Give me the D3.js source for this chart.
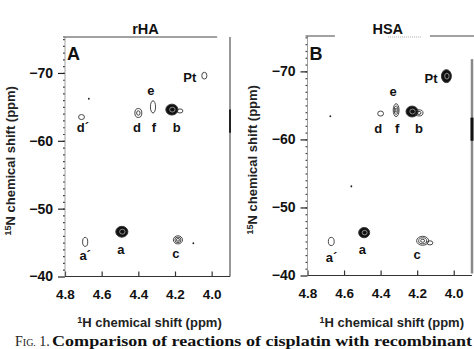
<!DOCTYPE html>
<html>
<head>
<meta charset="utf-8">
<script src="https://cdn.jsdelivr.net/npm/d3@7"></script>
<style>
  html, body { margin: 0; padding: 0; background: #fff; }
  svg { display: block; }
</style>
</head>
<body>
<svg id="chart" width="474" height="349"></svg>
<script>
// ---------------- DATA ----------------
const xTickValues = [4.8, 4.6, 4.4, 4.2, 4.0];
const yTickValues = [-70, -60, -50, -40];
const panelTitles = ["rHA", "HSA"];
const panelLetters = ["A", "B"];
const xTitle = "H chemical shift (ppm)";
const yTitle = "N chemical shift (ppm)";

// rHA (panel A) cross peaks: 1H ppm, 15N ppm, contour levels, linewidths (ppm)
const rhaPeakH      = [4.04, 4.71, 4.40, 4.32, 4.217, 4.173, 4.49, 4.69, 4.184, 4.67, 4.10];
const rhaPeakN      = [-69.6, -63.5, -64.1, -65.0, -64.6, -64.4, -46.6, -45.1, -45.4, -66.2, -44.9];
const rhaPeakLevel  = [1, 1, 2, 1, 6, 1, 6, 1, 3, 0, 0];
const rhaPeakWidthH = [0.014, 0.016, 0.019, 0.014, 0.033, 0.016, 0.033, 0.014, 0.025, 0.005, 0.005];
const rhaPeakWidthN = [0.5, 0.37, 0.66, 0.9, 0.8, 0.3, 0.8, 0.66, 0.6, 0.15, 0.15];
const rhaLabelText  = ["Pt", "e", "d\u00b4", "d", "f", "b", "a\u00b4", "a", "c"];
const rhaLabelH     = [4.119, 4.331, 4.702, 4.408, 4.315, 4.19, 4.69, 4.495, 4.195];
const rhaLabelN     = [-69.3, -67.35, -61.9, -61.9, -61.9, -61.9, -43.1, -44.0, -43.4];

// HSA (panel B) cross peaks
const hsaPeakH      = [4.04, 4.40, 4.315, 4.228, 4.19, 4.49, 4.67, 4.17, 4.13, 4.675, 4.56];
const hsaPeakN      = [-69.3, -63.8, -64.3, -64.1, -63.9, -46.3, -45.0, -45.1, -44.8, -63.4, -53.1];
const hsaPeakLevel  = [6, 1, 3, 6, 2, 6, 1, 3, 1, 0, 0];
const hsaPeakWidthH = [0.027, 0.016, 0.016, 0.033, 0.022, 0.030, 0.016, 0.033, 0.016, 0.005, 0.005];
const hsaPeakWidthN = [0.95, 0.37, 0.95, 0.8, 0.45, 0.75, 0.6, 0.66, 0.3, 0.15, 0.15];
const hsaLabelText  = ["Pt", "e", "d", "f", "b", "a\u00b4", "a", "c"];
const hsaLabelH     = [4.124, 4.331, 4.413, 4.31, 4.19, 4.669, 4.50, 4.20];
const hsaLabelN     = [-68.97, -67.06, -61.6, -61.6, -61.6, -42.6, -43.8, -43.1];

const captionLead = "F";
const captionLeadSmall = "IG.";
const captionLeadNum = " 1.";
const captionText = "Comparison of reactions of cisplatin with recombinant";

// ---------------- DRAW ----------------
const svg = d3.select("#chart");
const SANS = "'Liberation Sans', Arial, Helvetica, sans-serif";
const SERIF = "'Liberation Serif', 'Times New Roman', serif";

function zip(H, N, L, WH, WN) {
  return H.map((h, i) => ({ h, n: N[i], level: L[i], wh: WH[i], wn: WN[i] }));
}
function zipLabels(T, H, N) { return T.map((t, i) => ({ t, h: H[i], n: N[i] })); }

const panels = [
  {
    title: panelTitles[0], letter: panelLetters[0],
    x: d3.scaleLinear().domain([4.8, 3.9]).range([65, 230]),
    y: d3.scaleLinear().domain([-40, -75.3]).range([276.5, 37]),
    peaks: zip(rhaPeakH, rhaPeakN, rhaPeakLevel, rhaPeakWidthH, rhaPeakWidthN),
    labels: zipLabels(rhaLabelText, rhaLabelH, rhaLabelN),
    yTitleX: 11
  },
  {
    title: panelTitles[1], letter: panelLetters[1],
    x: d3.scaleLinear().domain([4.8, 3.9]).range([307.5, 472]),
    y: d3.scaleLinear().domain([-40, -75.2]).range([275.5, 36]),
    peaks: zip(hsaPeakH, hsaPeakN, hsaPeakLevel, hsaPeakWidthH, hsaPeakWidthN),
    labels: zipLabels(hsaLabelText, hsaLabelH, hsaLabelN),
    yTitleX: 253
  }
];

panels.forEach((p, pi) => {
  const g = svg.append("g");
  const [x0, x1] = p.x.range();
  const [yb, yt] = p.y.range();

  // minor y ticks (every 1 ppm)
  const minor = d3.axisLeft(p.y).tickValues(d3.range(-75, -40, 1)).tickSize(2).tickFormat("");
  const gm = g.append("g").attr("transform", `translate(${x0},0)`).call(minor);
  gm.select(".domain").remove();
  gm.selectAll("line").attr("stroke", "#444").attr("stroke-width", 1.2);

  // major y axis
  const yAx = d3.axisLeft(p.y).tickValues(yTickValues).tickSize(7).tickPadding(5)
    .tickFormat(d => "\u2212" + Math.abs(d));
  const gy = g.append("g").attr("transform", `translate(${x0},0)`).call(yAx);
  gy.select(".domain").remove();
  gy.selectAll("line").attr("stroke", "#222").attr("stroke-width", 1.2);
  gy.selectAll("text").attr("font-family", SANS).attr("font-size", 14)
    .attr("font-weight", "bold").attr("fill", "#111");

  // x axis
  const xAx = d3.axisBottom(p.x).tickValues(xTickValues).tickSizeInner(-5).tickSizeOuter(0)
    .tickPadding(13).tickFormat(d3.format(".1f"));
  const gx = g.append("g").attr("transform", `translate(0,${yb})`).call(xAx);
  gx.select(".domain").remove();
  gx.selectAll("line").attr("stroke", "#333").attr("stroke-width", 1.2);
  gx.selectAll("text").attr("font-family", SANS).attr("font-size", 13.5)
    .attr("font-weight", "bold").attr("fill", "#111");

  // frame
  g.append("line").attr("x1", x0).attr("x2", x0).attr("y1", yt).attr("y2", yb)
    .attr("stroke", "#888").attr("stroke-width", 0.8);
  g.append("line").attr("x1", x0).attr("x2", x1).attr("y1", yb).attr("y2", yb)
    .attr("stroke", "#333").attr("stroke-width", 1.1);
  if (pi === 0) {
    g.append("line").attr("x1", x0 - 2).attr("x2", p.x(3.97)).attr("y1", yt).attr("y2", yt)
      .attr("stroke", "#444").attr("stroke-width", 1);
    g.append("line").attr("x1", x1).attr("x2", x1).attr("y1", yt).attr("y2", yb)
      .attr("stroke", "#444").attr("stroke-width", 1.1);
    g.append("line").attr("x1", x1).attr("x2", x1).attr("y1", p.y(-64.6)).attr("y2", p.y(-61.2))
      .attr("stroke", "#222").attr("stroke-width", 2);
  } else {
    g.append("line").attr("x1", x0 - 2).attr("x2", p.x(4.65)).attr("y1", yt).attr("y2", yt)
      .attr("stroke", "#444").attr("stroke-width", 1);
    g.append("line").attr("x1", p.x(4.13)).attr("x2", x1 + 2).attr("y1", yt).attr("y2", yt)
      .attr("stroke", "#444").attr("stroke-width", 1);
    g.append("line").attr("x1", p.x(4.36)).attr("x2", p.x(4.18)).attr("y1", yt + 1).attr("y2", yt + 1)
      .attr("stroke", "#999").attr("stroke-width", 0.8).attr("stroke-dasharray", "1,1");
    g.append("line").attr("x1", x1).attr("x2", x1).attr("y1", p.y(-71.8)).attr("y2", yb - 2)
      .attr("stroke", "#888").attr("stroke-width", 2.5);
    g.append("line").attr("x1", x1).attr("x2", x1).attr("y1", p.y(-63.2)).attr("y2", p.y(-59.8))
      .attr("stroke", "#111").attr("stroke-width", 3);
  }

  // title and panel letter
  g.append("text").attr("x", (x0 + x1) / 2 - 2).attr("y", 34).attr("text-anchor", "middle")
    .attr("font-family", SANS).attr("font-size", 14.5).attr("font-weight", "bold")
    .attr("fill", "#111").text(p.title);
  g.append("text").attr("x", x0 + 2).attr("y", 59.5)
    .attr("font-family", SANS).attr("font-size", 18).attr("font-weight", "bold")
    .attr("fill", "#111").text(p.letter);

  // x axis title
  const xt = g.append("text").attr("x", (x0 + x1) / 2 + 2).attr("y", 327).attr("text-anchor", "middle")
    .attr("font-family", SANS).attr("font-size", 13).attr("font-weight", "bold").attr("fill", "#222");
  xt.append("tspan").attr("font-size", 9).attr("dy", -4).text("1");
  xt.append("tspan").attr("dy", 4).text(xTitle);

  // y axis title
  const yc = (yt + yb) / 2 + 4;
  const ytx = g.append("text")
    .attr("transform", `translate(${p.yTitleX + 4},${yc}) rotate(-90)`)
    .attr("text-anchor", "middle")
    .attr("font-family", SANS).attr("font-size", 13).attr("font-weight", "bold").attr("fill", "#222");
  ytx.append("tspan").attr("font-size", 9).attr("dy", -4).text("15");
  ytx.append("tspan").attr("dy", 4).text(yTitle);

  // peaks (contours)
  const gp = g.append("g");
  p.peaks.forEach(pk => {
    const cx = p.x(pk.h), cy = p.y(pk.n);
    const rx = Math.abs(p.x(pk.h + pk.wh) - cx);
    const ry = Math.abs(p.y(pk.n + pk.wn) - cy);
    if (pk.level === 0) {
      gp.append("ellipse").attr("cx", cx).attr("cy", cy).attr("rx", Math.max(rx, 0.9)).attr("ry", Math.max(ry, 0.9))
        .attr("fill", "#222");
    } else if (pk.level >= 5) {
      gp.append("ellipse").attr("cx", cx).attr("cy", cy).attr("rx", rx).attr("ry", ry)
        .attr("fill", "#111").attr("stroke", "#333").attr("stroke-width", 1);
      gp.append("ellipse").attr("cx", cx + 0.5).attr("cy", cy).attr("rx", rx * 0.45).attr("ry", ry * 0.45)
        .attr("fill", "none").attr("stroke", "#aaa").attr("stroke-width", 0.8);
    } else {
      for (let k = pk.level; k >= 1; k--) {
        gp.append("ellipse").attr("cx", cx).attr("cy", cy)
          .attr("rx", rx * k / pk.level).attr("ry", ry * k / pk.level)
          .attr("fill", "none").attr("stroke", "#333").attr("stroke-width", 0.9);
      }
    }
  });

  // peak labels
  g.append("g").selectAll("text").data(p.labels).join("text")
    .attr("x", d => p.x(d.h)).attr("y", d => p.y(d.n))
    .attr("text-anchor", "middle").attr("dominant-baseline", "central")
    .attr("font-family", SANS).attr("font-size", 13).attr("font-weight", "bold").attr("fill", "#111")
    .text(d => d.t);
});

// caption (at the bottom edge as in the reference)
const cap = svg.append("text").attr("x", 15).attr("y", 345.5)
  .attr("font-family", SERIF).attr("font-size", 14).attr("fill", "#222");
cap.append("tspan").text(captionLead);
cap.append("tspan").attr("font-size", 10).text(captionLeadSmall);
cap.append("tspan").text(captionLeadNum);
svg.append("text").attr("x", 52).attr("y", 345.5)
  .attr("font-family", SERIF).attr("font-size", 15).attr("font-weight", "bold").attr("fill", "#111")
  .attr("textLength", 420).attr("lengthAdjust", "spacingAndGlyphs")
  .text(captionText);
</script>
</body>
</html>
